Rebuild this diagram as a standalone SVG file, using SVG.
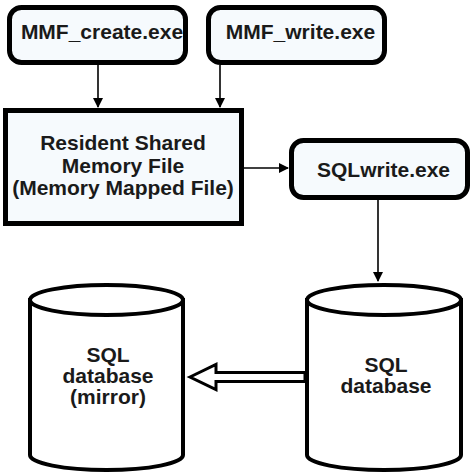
<svg xmlns="http://www.w3.org/2000/svg" width="474" height="475" viewBox="0 0 474 475">
<style>
.box{fill:#f6fafd;stroke:#000;stroke-width:5}
.cyl{fill:#fff;stroke:#000;stroke-width:4}
.lbl{font-family:"Liberation Sans",Arial,sans-serif;font-weight:bold;font-size:21px;fill:#1a1a1a;text-anchor:middle}
.conn{stroke:#000;stroke-width:1.6;fill:none}
</style>
<defs>
<marker id="ah" viewBox="0 0 10 10" refX="9" refY="5" markerWidth="10" markerHeight="10" markerUnits="userSpaceOnUse" orient="auto">
<path d="M0,0 L10,5 L0,10 Z" fill="#000"/>
</marker>
</defs>
<rect width="474" height="475" fill="#fff"/>
<g id="mmf_create">
<rect class="box" x="9.5" y="7.5" width="176" height="55" rx="12"/>
<text class="lbl" x="102" y="39">MMF_create.exe</text>
</g>
<g id="mmf_write">
<rect class="box" x="208.5" y="7.5" width="176" height="55" rx="12"/>
<text class="lbl" x="300.5" y="39">MMF_write.exe</text>
</g>
<g id="resident">
<rect class="box" x="5.5" y="110.5" width="236" height="113"/>
<text class="lbl" x="123" y="150">Resident Shared</text>
<text class="lbl" x="123" y="172.5">Memory File</text>
<text class="lbl" x="123" y="195">(Memory Mapped File)</text>
</g>
<g id="sqlwrite">
<rect class="box" x="291.5" y="140.5" width="176" height="57" rx="12"/>
<text class="lbl" x="383.5" y="177">SQLwrite.exe</text>
</g>
<g id="mirror_db">
<path class="cyl" d="M30,300 L30,455 A76.5,15 0 0 0 183,455 L183,300 Z"/>
<ellipse class="cyl" cx="106.5" cy="300" rx="76.5" ry="15"/>
<text class="lbl" x="108" y="362">SQL</text>
<text class="lbl" x="108" y="383">database</text>
<text class="lbl" x="108" y="404">(mirror)</text>
</g>
<g id="sql_db">
<path class="cyl" d="M307,300 L307,455 A77,15 0 0 0 461,455 L461,300 Z"/>
<ellipse class="cyl" cx="384" cy="300" rx="77" ry="15"/>
<text class="lbl" x="386" y="372">SQL</text>
<text class="lbl" x="386" y="393">database</text>
</g>
<g id="connectors">
<line class="conn" x1="98" y1="65" x2="98" y2="107" marker-end="url(#ah)"/>
<line class="conn" x1="220" y1="65" x2="220" y2="107" marker-end="url(#ah)"/>
<line class="conn" x1="244" y1="168" x2="288" y2="168" marker-end="url(#ah)"/>
<line class="conn" x1="378" y1="200" x2="378" y2="281" marker-end="url(#ah)"/>
<polygon points="190,377 216,364.5 216,372.5 305,372.5 305,381.5 216,381.5 216,389.5" fill="#fff" stroke="#000" stroke-width="3" stroke-linejoin="miter"/>
</g>
</svg>
